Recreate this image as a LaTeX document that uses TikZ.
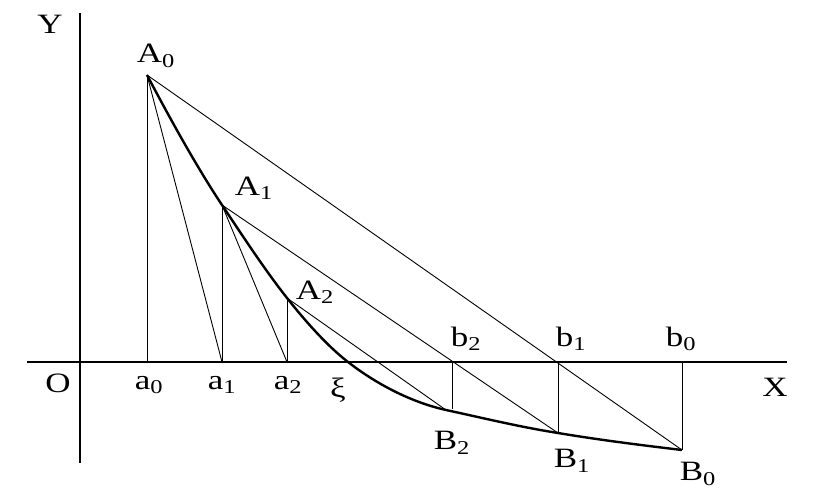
\documentclass[tikz,border=0pt]{standalone}
\usepackage{fontspec}
\usepackage{graphicx}
\setmainfont{Liberation Serif}
\newcommand{\lb}[2]{\scalebox{1.25}[1]{#1\textsubscript{#2}}}
\begin{document}
\begin{tikzpicture}[x=1pt,y=-1pt,
  axis/.style={line width=1.3pt},
  thinline/.style={line width=0.9pt},
  curveline/.style={line width=2.4pt, line join=round},
  lab/.style={inner sep=0pt, font=\fontsize{28}{30}\selectfont}]
\useasboundingbox (0,0) rectangle (830,498);
% axes
\coordinate (Ytop) at (80,13);
\coordinate (Ybot) at (80,463);
\coordinate (Xl) at (27,362);
\coordinate (Xr) at (787,362);
\draw[axis] (Ytop) -- (Ybot);
\draw[axis] (Xl) -- (Xr);
% points
\coordinate (A0) at (147,75);
\coordinate (A1) at (222,205);
\coordinate (A2) at (287,298);
\coordinate (a0) at (147,362);
\coordinate (a1) at (222,362);
\coordinate (a2) at (287,362);
\coordinate (xi) at (348,362);
\coordinate (B2) at (446,410);
\coordinate (B1) at (558,433);
\coordinate (B0) at (682,450);
\coordinate (b2) at (452,362);
\coordinate (b1) at (558,362);
\coordinate (b0) at (682,362);
\coordinate (b2e) at (452,409);
% verticals
\draw[thinline] (a0) -- (A0);
\draw[thinline] (a1) -- (A1);
\draw[thinline] (a2) -- (A2);
\draw[thinline] (b2) -- (b2e);
\draw[thinline] (b1) -- (B1);
\draw[thinline] (b0) -- (B0);
% chords
\draw[thinline] (A0) -- (B0);
\draw[thinline] (A1) -- (B1);
\draw[thinline] (A2) -- (B2);
% tangents
\draw[thinline] (A0) -- (a1);
\draw[thinline] (A1) -- (a2);
% curve
\draw[curveline] (A0) .. controls (175,128) and (200,172) .. (A1)
  .. controls (244,238) and (265,270) .. (A2)
  .. controls (310,327) and (330,348) .. (xi)
  .. controls (375,383) and (410,402) .. (B2)
  .. controls (483,418) and (520,427) .. (B1)
  .. controls (600,440) and (640,445) .. (B0);
% labels
\node[lab] (lY) at (50,24) {\scalebox{1.25}[1]{Y}};
\node[lab] (lO) at (58,383) {\scalebox{1.25}[1]{O}};
\node[lab] (lX) at (775,387) {\scalebox{1.25}[1]{X}};
\node[lab] (lA0) at (156,56) {\lb{A}{0}};
\node[lab] (lA1) at (254,188) {\lb{A}{1}};
\node[lab] (lA2) at (315,292) {\lb{A}{2}};
\node[lab] (la0) at (149,385) {\lb{a}{0}};
\node[lab] (la1) at (222,385) {\lb{a}{1}};
\node[lab] (la2) at (288,385) {\lb{a}{2}};
\node[lab] (lxi) at (338,390) {\scalebox{1.25}[1]{ξ}};
\node[lab] (lb2) at (466,339) {\lb{b}{2}};
\node[lab] (lb1) at (571,339) {\lb{b}{1}};
\node[lab] (lb0) at (681,339) {\lb{b}{0}};
\node[lab] (lB2) at (452,443) {\lb{B}{2}};
\node[lab] (lB1) at (572,461) {\lb{B}{1}};
\node[lab] (lB0) at (698,474) {\lb{B}{0}};
\end{tikzpicture}
\end{document}
